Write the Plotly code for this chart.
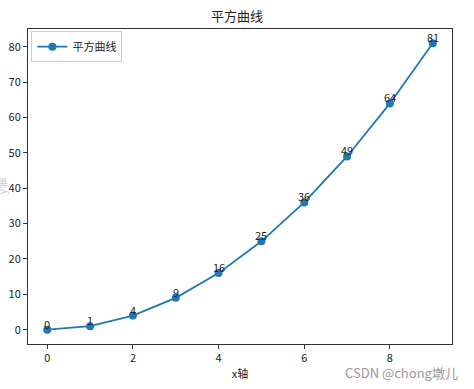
import plotly.graph_objects as go

x_vals = [0, 1, 2, 3, 4, 5, 6, 7, 8, 9]
y_vals = [0, 1, 4, 9, 16, 25, 36, 49, 64, 81]
x_ticks = [0, 2, 4, 6, 8]
y_ticks = [0, 10, 20, 30, 40, 50, 60, 70, 80]

FONT = "Noto Sans CJK SC, DejaVu Sans, sans-serif"
BLUE = "#1f77b4"

fig = go.Figure()
fig.add_trace(go.Scatter(
    x=x_vals, y=y_vals, mode="lines+markers",
    name="平方曲线",
    line=dict(color=BLUE, width=1.8),
    marker=dict(color=BLUE, size=8),
    cliponaxis=False,
))

for xv, yv in zip(x_vals, y_vals):
    fig.add_annotation(x=xv, y=yv, xref="x", yref="y", text=str(yv), showarrow=False,
                       xanchor="center", yanchor="bottom", yshift=-4,
                       font=dict(family=FONT, size=11, color="#222"))

axis_common = dict(
    showline=True, linecolor="#333", linewidth=1, mirror=True,
    ticks="outside", ticklen=4, tickcolor="#333", tickwidth=1,
    showgrid=False, zeroline=False, automargin=False,
    tickfont=dict(family=FONT, size=11, color="#222"),
)

fig.update_layout(
    width=474, height=389,
    margin=dict(l=28, r=22, t=29, b=45),
    paper_bgcolor="white", plot_bgcolor="white",
    title=dict(text="平方曲线", x=0.5, xanchor="center", y=0.957, yanchor="middle",
               font=dict(family=FONT, size=13, color="#222")),
    xaxis=dict(range=[-0.45, 9.45], tickvals=x_ticks,
               title=dict(text="x轴", standoff=6, font=dict(family=FONT, size=11, color="#222")),
               **axis_common),
    yaxis=dict(range=[-4.05, 85.05], tickvals=y_ticks, **axis_common),
    legend=dict(x=0.008, y=0.993, xanchor="left", yanchor="top",
                bgcolor="rgba(255,255,255,0.8)", bordercolor="#ccc", borderwidth=1,
                font=dict(family=FONT, size=11, color="#222"), itemwidth=30),
    showlegend=True,
)

fig.add_annotation(text="y轴", xref="paper", yref="paper", x=-0.066, y=0.5,
                   xanchor="center", yanchor="middle", textangle=-90, showarrow=False,
                   font=dict(family=FONT, size=11, color="#ccc"))

fig.add_annotation(text="CSDN @chong墩儿", xref="paper", yref="paper",
                   x=1.02, y=-0.09, xanchor="right", yanchor="middle", showarrow=False,
                   font=dict(family=FONT, size=13, color="#999"))

fig.write_html("out.html", config={"displayModeBar": False},
               post_script="document.body.style.margin='0';")
